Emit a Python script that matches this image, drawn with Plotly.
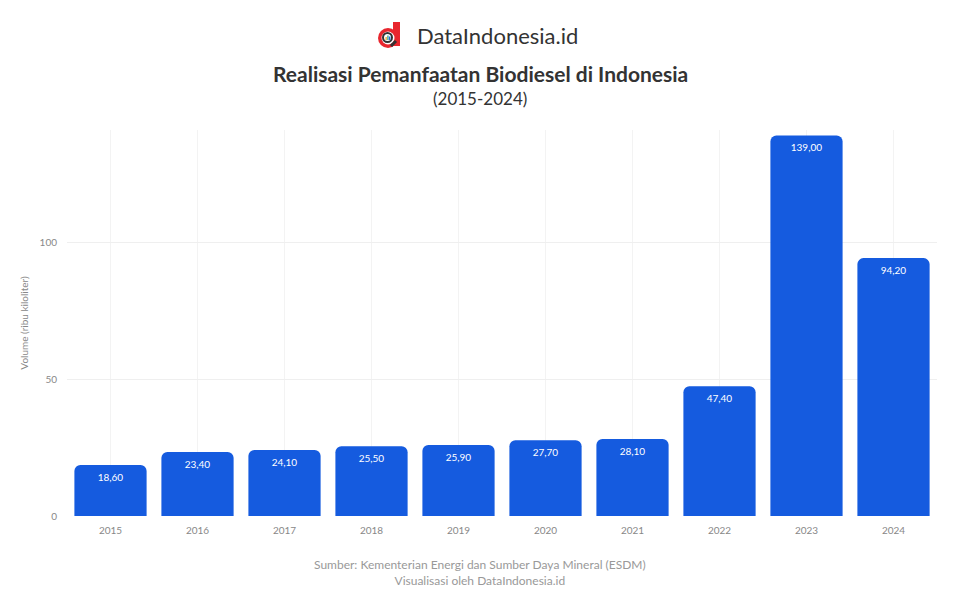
import plotly.graph_objects as go

years = ["2015", "2016", "2017", "2018", "2019", "2020", "2021", "2022", "2023", "2024"]
values = [18.6, 23.4, 24.1, 25.5, 25.9, 27.7, 28.1, 47.4, 139.0, 94.2]
bar_labels = [f"{v:.2f}".replace(".", ",") for v in values]
y_ticks = [0, 50, 100]

FONT = "Lato"
BLUE = "#155BDF"
RED = "#E8262E"

# page body has an 8px margin; figure is sized so the plot lands where the reference has it
W, H = 952, 592
OFF = 8
PL, PR, PT, PB = 67, 937, 130, 516  # plot area in screen pixels
PW, PH = PR - PL, PB - PT


def px(xs):
    return (xs - PL) / PW


def py(ys):
    return (PB - ys) / PH


fig = go.Figure()
fig.add_trace(go.Bar(
    x=years, y=values, text=bar_labels,
    textposition="inside", insidetextanchor="end",
    textfont=dict(color="white", size=10, family=FONT),
    marker=dict(color=BLUE, cornerradius=6, line=dict(width=0)),
    hoverinfo="x+y",
))

fig.update_layout(
    width=W, height=H,
    margin=dict(l=PL - OFF, r=W - (PR - OFF), t=PT - OFF, b=H - (PB - OFF), autoexpand=False),
    paper_bgcolor="white", plot_bgcolor="white",
    bargap=0.17,
    showlegend=False,
    font=dict(family=FONT, color="#555"),
    xaxis=dict(showgrid=True, gridcolor="#f3f3f3", tickfont=dict(size=10, color="#888"),
               showline=False, ticks="", ticklabelstandoff=7),
    yaxis=dict(range=[0, 141], tickvals=y_ticks, showgrid=True, gridcolor="#efefef",
               zeroline=False, tickfont=dict(size=10, color="#888"), ticks="",
               ticklabelstandoff=9,
               title=dict(text="Volume (ribu kiloliter)", font=dict(size=10, color="#888"), standoff=9)),
)


def shp(kind, x0, y0, x1, y1, **kw):
    fig.add_shape(type=kind, xref="paper", yref="paper",
                  x0=px(x0), x1=px(x1), y0=py(y1), y1=py(y0), **kw)


# header logo: red "d" with a magnifier inside its bowl
shp("circle", 378, 28, 398, 48, fillcolor=RED, line=dict(width=0))
shp("rect", 393, 22, 400, 46, fillcolor=RED, line=dict(width=0))
shp("circle", 381.5, 31.5, 394.5, 44.5, fillcolor="white", line=dict(width=0))
shp("circle", 383, 33, 392, 42, fillcolor="white", line=dict(color="#333", width=2))
shp("line", 391, 41, 396, 46, line=dict(color="#333", width=3))
shp("rect", 385.5, 37, 386.8, 40, fillcolor="#f5a623", line=dict(width=0))
shp("rect", 387.3, 35.5, 388.6, 40, fillcolor="#2a9d8f", line=dict(width=0))
shp("rect", 389.1, 36.5, 390.4, 40, fillcolor=BLUE, line=dict(width=0))

fig.add_annotation(xref="paper", yref="paper", x=px(415), y=py(35),
                   text="DataIndonesia.id", showarrow=False, xanchor="left", yanchor="middle",
                   font=dict(size=22, color="#333", family=FONT))
fig.add_annotation(xref="paper", yref="paper", x=px(480), y=py(74),
                   text="<b>Realisasi Pemanfaatan Biodiesel di Indonesia</b>", showarrow=False,
                   xanchor="center", yanchor="middle", font=dict(size=21, color="#333", family=FONT))
fig.add_annotation(xref="paper", yref="paper", x=px(480), y=py(99),
                   text="(2015-2024)", showarrow=False,
                   xanchor="center", yanchor="middle", font=dict(size=17, color="#333", family=FONT))
fig.add_annotation(xref="paper", yref="paper", x=px(480), y=py(572),
                   text="Sumber: Kementerian Energi dan Sumber Daya Mineral (ESDM)<br>Visualisasi oleh DataIndonesia.id",
                   showarrow=False, xanchor="center", yanchor="middle", align="center",
                   font=dict(size=12, color="#999", family=FONT))

fig.write_html("out.html")
